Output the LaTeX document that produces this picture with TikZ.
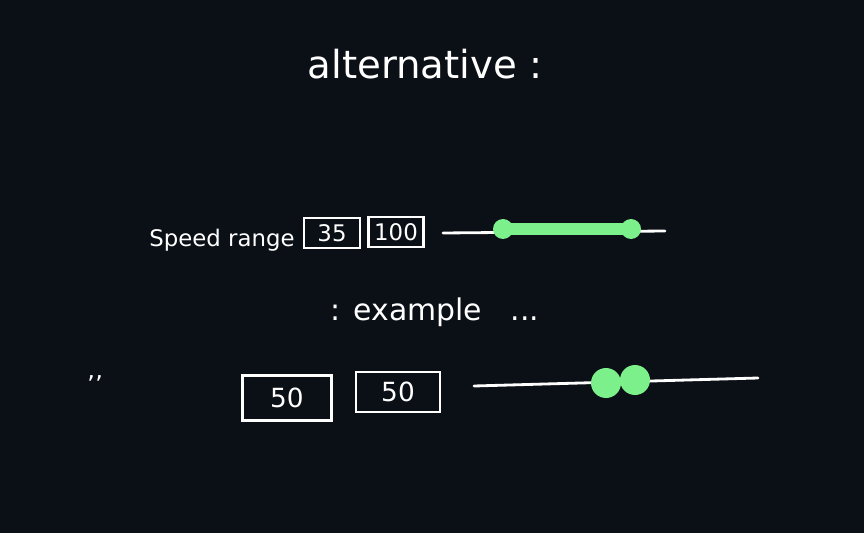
\documentclass[tikz,border=0pt]{standalone}
\usepackage{fontspec}
\setmainfont{DejaVu Sans}
\definecolor{bg}{HTML}{0B0F16}
\definecolor{grn}{HTML}{7CF08A}
\begin{document}
\begin{tikzpicture}[x=0.02cm,y=-0.02cm,
  txt/.style={text=white,inner sep=0pt},
  valbox/.style={draw=white,line width=1.6pt,text=white,inner sep=0pt,minimum height=#1},
  track/.style={white,line width=1.6pt,line cap=round},
  knob/.style={circle,fill=grn,inner sep=0pt,minimum size=#1}]
\fill[bg] (0,0) rectangle (864,533);
\useasboundingbox (0,0) rectangle (864,533);
\node[txt,font=\fontsize{22}{24}\selectfont] (title) at (425,64) {alternative :};
\node[txt,font=\fontsize{13}{15}\selectfont] (lbl) at (222,240) {Speed range};
\node[valbox=30*0.02cm,minimum width=56*0.02cm,font=\fontsize{13}{15}\selectfont] (b1) at (332,233) {35};
\node[valbox=30*0.02cm,minimum width=55*0.02cm,font=\fontsize{13}{15}\selectfont] (b2) at (396,232) {100};
\coordinate (l1a) at (443,233); \coordinate (l1b) at (665,231);
\draw[track] (l1a) -- (l1b);
\node[knob=20*0.02cm] (k1) at (503,229) {};
\node[knob=20*0.02cm] (k2) at (631,229) {};
\draw[grn,line width=7pt] (k1.center) -- (k2.center);
\node[txt,font=\fontsize{17}{19}\selectfont] (ex) at (435,312) {: example \ \ ...};
\node[txt,font=\fontsize{14}{16}\selectfont] (q) at (95,385) {{'}{'}};
\node[valbox=45*0.02cm,minimum width=89*0.02cm,font=\fontsize{15}{17}\selectfont] (b3) at (287,398) {50};
\node[valbox=40*0.02cm,minimum width=84*0.02cm,font=\fontsize{15}{17}\selectfont] (b4) at (398,392) {50};
\coordinate (l2a) at (474,386); \coordinate (l2b) at (758,378);
\draw[track] (l2a) -- (l2b);
\node[knob=30*0.02cm] (k3) at (606,383) {};
\node[knob=30*0.02cm] (k4) at (635,380) {};
\end{tikzpicture}
\end{document}
